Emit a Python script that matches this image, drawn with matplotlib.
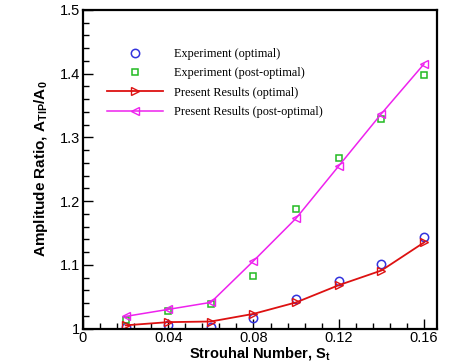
import matplotlib
matplotlib.use("Agg")
import matplotlib.pyplot as plt
from matplotlib.ticker import MultipleLocator, FuncFormatter

strouhal = [0.02, 0.04, 0.06, 0.08, 0.10, 0.12, 0.14, 0.16]
exp_optimal = [1.003, 1.006, 1.003, 1.017, 1.047, 1.075, 1.101, 1.144]
exp_post = [1.013, 1.028, 1.038, 1.082, 1.188, 1.268, 1.328, 1.398]
pres_optimal = [1.005, 1.010, 1.011, 1.023, 1.041, 1.068, 1.091, 1.135]
pres_post = [1.019, 1.030, 1.041, 1.106, 1.173, 1.255, 1.337, 1.415]

fig = plt.figure(figsize=(4.74, 3.63), dpi=100)
ax = fig.add_axes([0.175, 0.095, 0.747, 0.878])

ax.plot(strouhal, exp_optimal, linestyle="none", marker="o", markersize=6,
        markerfacecolor="none", markeredgecolor="#3333dd", markeredgewidth=1.1,
        label="Experiment (optimal)")
ax.plot(strouhal, exp_post, linestyle="none", marker="s", markersize=5,
        markerfacecolor="none", markeredgecolor="#22bb22", markeredgewidth=1.1,
        label="Experiment (post-optimal)")
ax.plot(strouhal, pres_optimal, color="#dd1111", linewidth=1.3, marker=">",
        markersize=6, markerfacecolor="none", markeredgewidth=1.0,
        label="Present Results (optimal)")
ax.plot(strouhal, pres_post, color="#ee22ee", linewidth=1.1, marker="<",
        markersize=6, markerfacecolor="none", markeredgewidth=1.0,
        label="Present Results (post-optimal)")

ax.set_xlim(0, 0.1661)
ax.set_ylim(1.0, 1.5)

ax.xaxis.set_major_locator(MultipleLocator(0.04))
ax.xaxis.set_minor_locator(MultipleLocator(0.008))
ax.yaxis.set_major_locator(MultipleLocator(0.1))
ax.yaxis.set_minor_locator(MultipleLocator(0.02))
fmt = FuncFormatter(lambda v, p: "%g" % round(v, 3))
ax.xaxis.set_major_formatter(fmt)
ax.yaxis.set_major_formatter(fmt)

ax.tick_params(which="both", direction="in", top=False, right=False,
               width=1.0, color="black")
ax.tick_params(which="major", length=7, labelsize=10.5, pad=2)
ax.tick_params(which="minor", length=4)
for lab in ax.get_xticklabels() + ax.get_yticklabels():
    lab.set_family("Liberation Sans")

for s in ax.spines.values():
    s.set_linewidth(1.6)

ax.set_xlabel("Strouhal Number, S$_\\mathregular{t}$", fontsize=10.5,
              fontweight="bold", family="Liberation Sans", labelpad=0)
ax.set_ylabel("Amplitude Ratio, A$_\\mathregular{TIP}$/A$_\\mathregular{0}$",
              fontsize=11, fontweight="bold", family="Liberation Sans",
              labelpad=7)

ax.legend(loc="upper left", bbox_to_anchor=(0.068, 0.88), frameon=False,
          prop={"family": "Liberation Serif", "size": 8.8},
          handlelength=4.6, handletextpad=0.85, labelspacing=0.6,
          borderpad=0, borderaxespad=0)

fig.savefig("out.png", dpi=100)
